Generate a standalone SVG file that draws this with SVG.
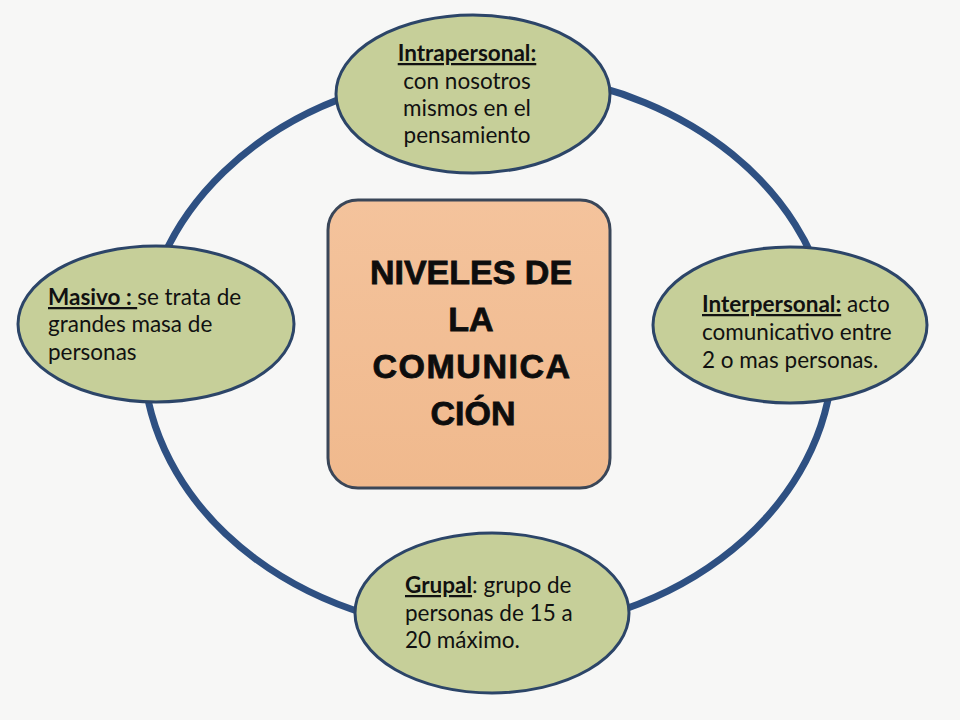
<svg xmlns="http://www.w3.org/2000/svg" width="960" height="720" viewBox="0 0 960 720">
<defs>
<linearGradient id="boxg" x1="0" y1="0" x2="0" y2="1">
<stop offset="0" stop-color="#f4c39c"/>
<stop offset="1" stop-color="#f0b98d"/>
</linearGradient>
<style>
.node-shape{fill:#c6cf99;stroke:#2c4568;stroke-width:3}
.conn{fill:none;stroke:#2e5082;stroke-width:7;stroke-linecap:butt}
.t{font-family:Lato,"Open Sans","Liberation Sans",sans-serif;font-size:22.5px;fill:#111}
.b{font-weight:bold;text-decoration:underline}
.title{font-family:"Liberation Sans",Arial,sans-serif;font-weight:bold;font-size:34px;fill:#0d0d0d;stroke:#0d0d0d;stroke-width:0.8;text-anchor:middle}
</style>
</defs>
<rect x="0" y="0" width="960" height="720" fill="#f7f7f6"/>
<g id="connectors">
<path class="conn" d="M148.2,303.4 A345,280 0 0 1 370,88.9"/>
<path class="conn" d="M547.9,76.3 A345,280 0 0 1 827.8,303.4"/>
<path class="conn" d="M831.7,376.4 A345,280 0 0 1 488,632"/>
<path class="conn" d="M488,632 A345,280 0 0 1 144.3,376.4"/>
</g>
<g id="center">
<rect x="328" y="200" width="282" height="288" rx="30" ry="30" fill="url(#boxg)" stroke="#3a4658" stroke-width="3"/>
<text class="title" x="471" y="284">NIVELES DE</text>
<text class="title" x="471" y="331">LA</text>
<text class="title" x="472" y="378" letter-spacing="1.5">COMUNICA</text>
<text class="title" x="473" y="425">CIÓN</text>
</g>
<g id="intrapersonal">
<ellipse class="node-shape" cx="473" cy="94" rx="137" ry="79"/>
<text class="t" text-anchor="middle"><tspan class="b" x="467" y="61">Intrapersonal:</tspan><tspan x="467" y="88.5">con nosotros</tspan><tspan x="467" y="116">mismos en el</tspan><tspan x="467" y="143">pensamiento</tspan></text>
</g>
<g id="masivo">
<ellipse class="node-shape" cx="156" cy="324" rx="138" ry="78"/>
<text class="t"><tspan x="48" y="305"><tspan class="b">Masivo : </tspan>se trata de</tspan><tspan x="48" y="332">grandes masa de</tspan><tspan x="48" y="360">personas</tspan></text>
</g>
<g id="interpersonal">
<ellipse class="node-shape" cx="790" cy="325" rx="137" ry="78"/>
<text class="t"><tspan x="702" y="312"><tspan class="b">Interpersonal:</tspan> acto</tspan><tspan x="702" y="340">comunicativo entre</tspan><tspan x="702" y="368">2 o mas personas.</tspan></text>
</g>
<g id="grupal">
<ellipse class="node-shape" cx="492" cy="613" rx="137" ry="80"/>
<text class="t"><tspan x="405" y="593"><tspan class="b">Grupal</tspan>: grupo de</tspan><tspan x="405" y="621">personas de 15 a</tspan><tspan x="405" y="648">20 máximo.</tspan></text>
</g>
</svg>
